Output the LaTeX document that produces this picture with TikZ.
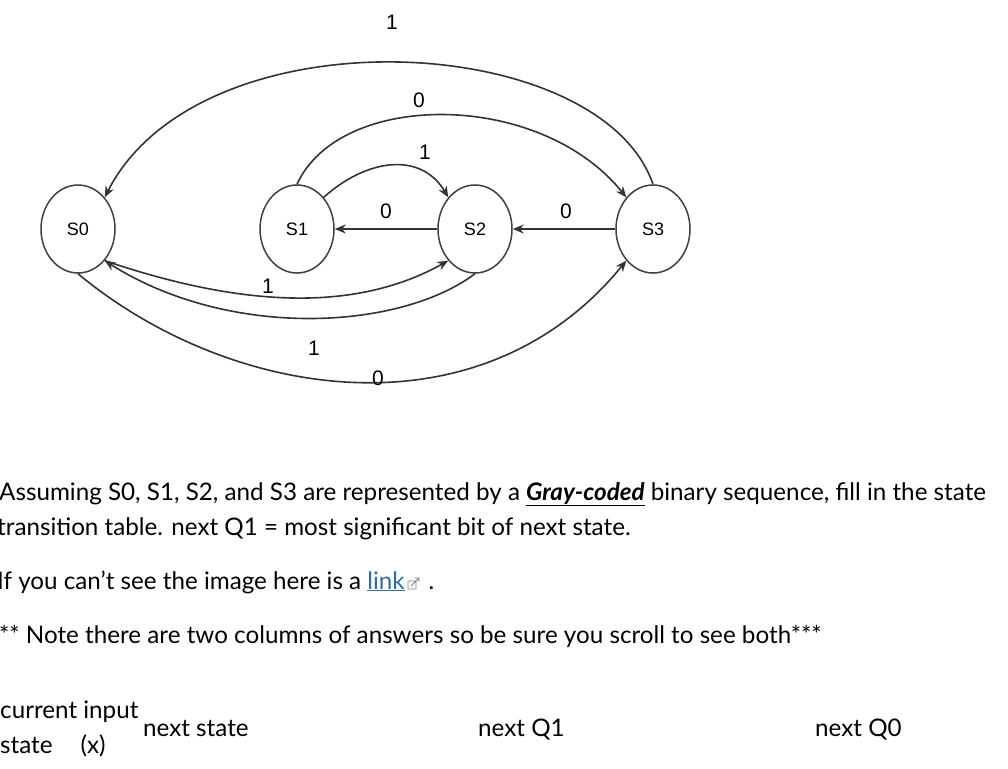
\documentclass[tikz,border=0pt]{standalone}
\usepackage{fontspec}
\setmainfont{Lato}[Ligatures=ResetAll]
\newfontfamily\diag{Liberation Sans}
\usetikzlibrary{arrows.meta,shapes.geometric}
\definecolor{linkc}{HTML}{2D6EA3}
\begin{document}
\begin{tikzpicture}[x=1pt,y=-1pt,
  st/.style={draw=black!75,line width=1.5pt,ellipse,minimum width=74pt,minimum height=88pt,font=\diag\fontsize{18}{20}\selectfont},
  ed/.style={draw=black!80,line width=1.6pt,-{Stealth[length=11pt,width=9pt]}},
  lb/.style={font=\diag\fontsize{21}{23}\selectfont},
  tx/.style={anchor=base west,inner sep=0pt,font=\fontsize{24.2}{28}\selectfont}]
\useasboundingbox (0,0) rectangle (1008,768);
\fill[white] (0,0) rectangle (1008,768);
\node[st] (s0) at (78,229) {S0};
\node[st] (s1) at (297,229) {S1};
\node[st] (s2) at (475,229) {S2};
\node[st] (s3) at (653,229) {S3};
\draw[ed] (s3.north) .. controls (600,30) and (200,10) .. (s0.north east);
\draw[ed] (s1.north) .. controls (340,90) and (540,90) .. (s3.north west);
\draw[ed] (s1.north east) .. controls (365,160) and (420,150) .. (s2.north west);
\draw[ed] (s2.west) -- (s1.east);
\draw[ed] (s3.west) -- (s2.east);
\draw[ed] (s0.south east) .. controls (250,310) and (360,310) .. (s2.south west);
\draw[ed] (s2.south) .. controls (400,330) and (230,340) .. (s0.south east);
\draw[ed] (s0.south) .. controls (230,400) and (480,440) .. (s3.south west);
\node[lb] (l1) at (392,22) {1};
\node[lb] (l2) at (419,100) {0};
\node[lb] (l3) at (425,152) {1};
\node[lb] (l4) at (386,211) {0};
\node[lb] (l5) at (566,211) {0};
\node[lb] (l6) at (268,286) {1};
\node[lb] (l7) at (314,348) {1};
\node[lb] (l8) at (378,378) {0};
\node[tx] (t1) at (-1,500) {Assuming S0, S1, S2, and S3 are represented by a \underline{\textbf{\textit{Gray-coded}}} binary sequence, fill in the state};
\node[tx] (t2) at (-3,535) {transition table. next Q1 = most significant bit of next state.};
\node[tx] (t3) at (-3,589) {If you can't see the image here is a \textcolor{linkc}{\underline{link}}\hspace{24pt}.};
\draw[gray,line width=0.8pt] (408,581) rectangle (416,589) (411,586) -- (419,578) (415,578) -- (419,578) -- (419,582);
\node[tx] (t4) at (-1,643) {** Note there are two columns of answers so be sure you scroll to see both***};
\node[tx] (h1) at (0,718) {current input};
\node[tx] (h2) at (0,753) {state\hspace{28pt}(x)};
\node[tx] (h3) at (143,736) {next state};
\node[tx] (h4) at (478,736) {next Q1};
\node[tx] (h5) at (815,736) {next Q0};
\end{tikzpicture}
\end{document}
